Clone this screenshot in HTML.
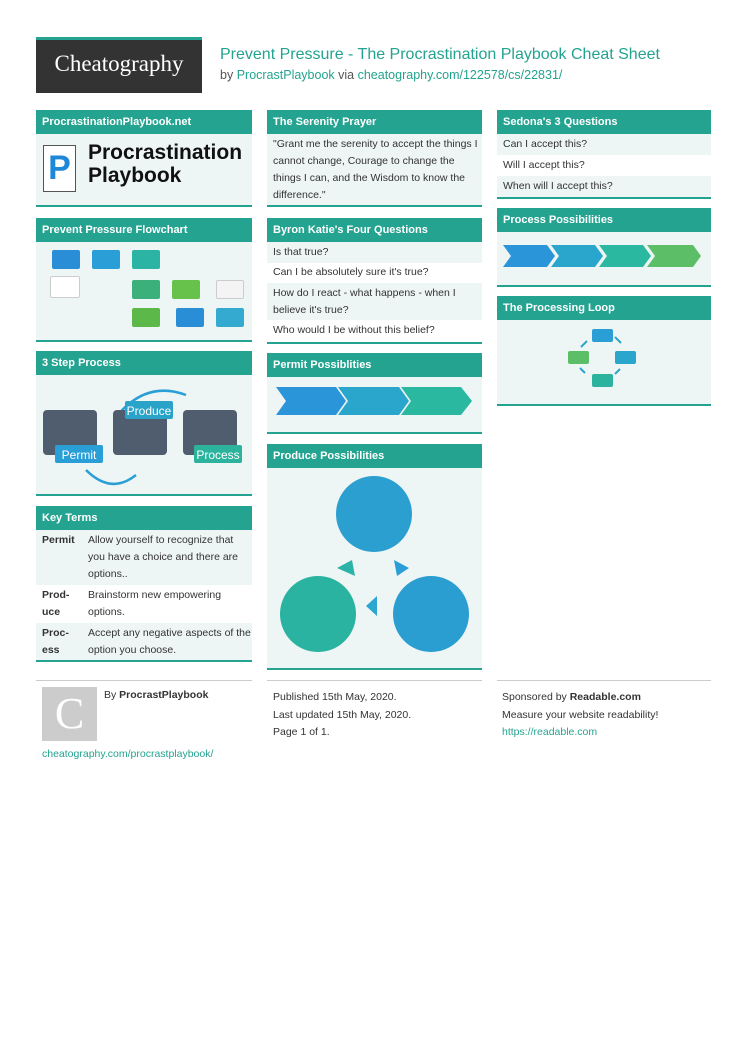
<!DOCTYPE html>
<html><head><meta charset="utf-8"><style>
*{margin:0;padding:0;box-sizing:border-box}
body{width:750px;height:1061px;background:#fff;font-family:"Liberation Sans",sans-serif;position:relative;overflow:hidden;color:#333}
.a{position:absolute}
.h{position:absolute;background:#24a390;color:#fff;font-weight:bold;font-size:11px;padding-left:6px;line-height:24px}
.b{position:absolute;background:#eef5f5;border-bottom:2px solid #24a390}
.r{position:absolute;font-size:10.5px;line-height:17px;padding-left:6px;color:#333}
.l{background:#eef5f5}.w{background:#fff}
.bx{position:absolute;font-size:3px;color:#fff;text-align:center;border-radius:2px}
</style></head><body>
<div class="a" style="left:36px;top:37px;width:166px;height:56px;background:#333;border-top:3px solid #24a390"></div>
<div class="a" style="left:36px;top:51px;width:166px;text-align:center;color:#fff;font-family:'Liberation Serif',serif;font-size:23px">Cheatography</div>
<div class="a" style="left:220px;top:46px;font-size:16px;color:#24a390">Prevent Pressure - The Procrastination Playbook Cheat Sheet</div>
<div class="a" style="left:220px;top:68px;font-size:12.5px;color:#555">by <span style="color:#24a390">ProcrastPlaybook</span> via <span style="color:#24a390">cheatography.com/122578/cs/22831/</span></div>

<!-- col1 -->
<div class="h" style="left:36px;top:110px;width:216px">ProcrastinationPlaybook.net</div>
<div class="b" style="left:36px;top:134px;width:216px;height:73px"></div>
<div class="a" style="left:43px;top:145px;width:33px;height:47px;border:1.5px solid #555;background:#fff;color:#1e88d8;font-weight:bold;font-size:34px;line-height:44px;text-align:center">P</div>
<div class="a" style="left:88px;top:141px;font-weight:bold;font-size:21px;line-height:23px;color:#111">Procrastination<br>Playbook</div>

<div class="h" style="left:36px;top:218px;width:216px">Prevent Pressure Flowchart</div>
<div class="b" style="left:36px;top:242px;width:216px;height:100px"></div>
<div class="bx" style="left:52px;top:250px;width:28px;height:19px;background:#2a8ed6"></div>
<div class="bx" style="left:92px;top:250px;width:28px;height:19px;background:#2a9ed6"></div>
<div class="bx" style="left:132px;top:250px;width:28px;height:19px;background:#2bb3a3"></div>
<div class="bx" style="left:50px;top:276px;width:30px;height:22px;background:#fff;border:1px solid #ccc"></div>
<div class="bx" style="left:132px;top:280px;width:28px;height:19px;background:#3bb07a"></div>
<div class="bx" style="left:172px;top:280px;width:28px;height:19px;background:#66c24a"></div>
<div class="bx" style="left:216px;top:280px;width:28px;height:19px;background:#f4f4f4;border:1px solid #ccc"></div>
<div class="bx" style="left:132px;top:308px;width:28px;height:19px;background:#5cb848"></div>
<div class="bx" style="left:176px;top:308px;width:28px;height:19px;background:#2a8ed6"></div>
<div class="bx" style="left:216px;top:308px;width:28px;height:19px;background:#35aad0"></div>

<div class="h" style="left:36px;top:351px;width:216px">3 Step Process</div>
<div class="b" style="left:36px;top:375px;width:216px;height:121px"></div>
<svg class="a" style="left:36px;top:375px" width="216" height="120">
<path d="M80 42 Q110 5 150 20" stroke="#2a9ed6" stroke-width="2.5" fill="none"/>
<path d="M50 95 Q75 120 100 100" stroke="#2a9ed6" stroke-width="2.5" fill="none"/>
<rect x="7" y="35" width="54" height="45" rx="4" fill="#4f5d6e"/>
<rect x="77" y="35" width="54" height="45" rx="4" fill="#4f5d6e"/>
<rect x="147" y="35" width="54" height="45" rx="4" fill="#4f5d6e"/>
<rect x="89" y="26" width="48" height="18" rx="2" fill="#2aa3c8"/><text x="113" y="40" font-size="12" fill="#fff" text-anchor="middle" font-family="Liberation Sans">Produce</text>
<rect x="19" y="70" width="48" height="18" rx="2" fill="#2a9ed6"/><text x="43" y="84" font-size="12" fill="#fff" text-anchor="middle" font-family="Liberation Sans">Permit</text>
<rect x="158" y="70" width="48" height="18" rx="2" fill="#2bb39e"/><text x="182" y="84" font-size="12" fill="#fff" text-anchor="middle" font-family="Liberation Sans">Process</text>
</svg>

<div class="h" style="left:36px;top:506px;width:216px">Key Terms</div>
<div class="r l" style="left:36px;top:530px;width:216px;height:55px;padding-top:2px"><b style="position:absolute;left:6px">Permit</b><div style="margin-left:46px">Allow yourself to recognize that you have a choice and there are options..</div></div>
<div class="r w" style="left:36px;top:585px;width:216px;height:38px;padding-top:2px"><b style="position:absolute;left:6px">Prod-<br>uce</b><div style="margin-left:46px">Brainstorm new empowering options.</div></div>
<div class="r l" style="left:36px;top:623px;width:216px;height:38px;padding-top:2px"><b style="position:absolute;left:6px">Proc-<br>ess</b><div style="margin-left:46px">Accept any negative aspects of the option you choose.</div></div>
<div class="a" style="left:36px;top:660px;width:216px;height:2px;background:#24a390"></div>

<!-- col2 -->
<div class="h" style="left:267px;top:110px;width:215px">The Serenity Prayer</div>
<div class="b" style="left:267px;top:134px;width:215px;height:73px"></div>
<div class="r" style="left:267px;top:136px;width:212px">"Grant me the serenity to accept the things I cannot change, Courage to change the things I can, and the Wisdom to know the difference."</div>

<div class="h" style="left:267px;top:218px;width:215px">Byron Katie's Four Questions</div>
<div class="r l" style="left:267px;top:242px;width:215px;height:21px;padding-top:2px">Is that true?</div>
<div class="r w" style="left:267px;top:263px;width:215px;height:20px;padding-top:1px">Can I be absolutely sure it's true?</div>
<div class="r l" style="left:267px;top:283px;width:215px;height:37px;padding-top:2px">How do I react - what happens - when I believe it's true?</div>
<div class="r w" style="left:267px;top:320px;width:215px;height:22px;padding-top:2px">Who would I be without this belief?</div>
<div class="a" style="left:267px;top:342px;width:215px;height:2px;background:#24a390"></div>

<div class="h" style="left:267px;top:353px;width:215px">Permit Possiblities</div>
<div class="b" style="left:267px;top:377px;width:215px;height:57px"></div>
<svg class="a" style="left:276px;top:387px" width="200" height="30">
<polygon points="0,0 60,0 70,14 60,28 0,28 10,14" fill="#2a95d8"/>
<polygon points="62,0 123,0 133,14 123,28 62,28 72,14" fill="#2aa6cc"/>
<polygon points="125,0 185,0 196,14 185,28 125,28 135,14" fill="#2bb8a0"/>
</svg>

<div class="h" style="left:267px;top:444px;width:215px">Produce Possibilities</div>
<div class="b" style="left:267px;top:468px;width:215px;height:202px"></div>
<svg class="a" style="left:267px;top:468px" width="215" height="200">
<circle cx="107" cy="46" r="38" fill="#2a9fd0"/>
<circle cx="51" cy="146" r="38" fill="#2ab3a0"/>
<circle cx="164" cy="146" r="38" fill="#2a9ed0"/>
<polygon points="70,100 85,92 88,108" fill="#2bb3a8"/>
<polygon points="127,92 142,100 130,108" fill="#2a9ed6"/>
<polygon points="99,138 110,128 110,148" fill="#2aa6d0"/>
</svg>

<!-- col3 -->
<div class="h" style="left:497px;top:110px;width:214px">Sedona's 3 Questions</div>
<div class="r l" style="left:497px;top:134px;width:214px;height:21px;padding-top:2px">Can I accept this?</div>
<div class="r w" style="left:497px;top:155px;width:214px;height:21px;padding-top:2px">Will I accept this?</div>
<div class="r l" style="left:497px;top:176px;width:214px;height:21px;padding-top:2px">When will I accept this?</div>
<div class="a" style="left:497px;top:197px;width:214px;height:2px;background:#24a390"></div>

<div class="h" style="left:497px;top:208px;width:214px">Process Possibilities</div>
<div class="b" style="left:497px;top:232px;width:214px;height:55px"></div>
<svg class="a" style="left:503px;top:245px" width="205" height="24">
<polygon points="0,0 44,0 52,11 44,22 0,22 8,11" fill="#2a95d8"/>
<polygon points="48,0 92,0 100,11 92,22 48,22 56,11" fill="#2aa6cc"/>
<polygon points="96,0 140,0 148,11 140,22 96,22 104,11" fill="#2bb8a0"/>
<polygon points="144,0 190,0 198,11 190,22 144,22 152,11" fill="#5cbf68"/>
</svg>

<div class="h" style="left:497px;top:296px;width:214px">The Processing Loop</div>
<div class="b" style="left:497px;top:320px;width:214px;height:86px"></div>
<svg class="a" style="left:565px;top:325px" width="80" height="70">
<rect x="27" y="4" width="21" height="13" rx="2" fill="#2a9fd6"/>
<rect x="50" y="26" width="21" height="13" rx="2" fill="#2aa6cc"/>
<rect x="27" y="49" width="21" height="13" rx="2" fill="#2bb39e"/>
<rect x="3" y="26" width="21" height="13" rx="2" fill="#5cbf68"/>
<path d="M50 12 l6 6 M16 22 l6 -6 M55 44 l-5 5 M20 48 l-5 -5" stroke="#2aa6cc" stroke-width="2"/>
</svg>

<!-- footer -->
<div class="a" style="left:36px;top:680px;width:216px;height:1px;background:#ccc"></div>
<div class="a" style="left:267px;top:680px;width:215px;height:1px;background:#ccc"></div>
<div class="a" style="left:497px;top:680px;width:214px;height:1px;background:#ccc"></div>
<div class="a" style="left:42px;top:687px;width:55px;height:54px;background:#ccc;color:#fff;font-family:'Liberation Serif',serif;font-size:44px;text-align:center;line-height:54px">C</div>
<div class="a" style="left:104px;top:689px;font-size:10.5px">By <b>ProcrastPlaybook</b></div>
<div class="a" style="left:42px;top:748px;font-size:10.5px;color:#24a390">cheatography.com/procrastplaybook/</div>
<div class="a" style="left:273px;top:689px;font-size:10.5px;line-height:17.5px">Published 15th May, 2020.<br>Last updated 15th May, 2020.<br>Page 1 of 1.</div>
<div class="a" style="left:502px;top:689px;font-size:10.5px;line-height:17.5px">Sponsored by <b>Readable.com</b><br>Measure your website readability!<br><span style="color:#24a390">https://readable.com</span></div>
</body></html>
